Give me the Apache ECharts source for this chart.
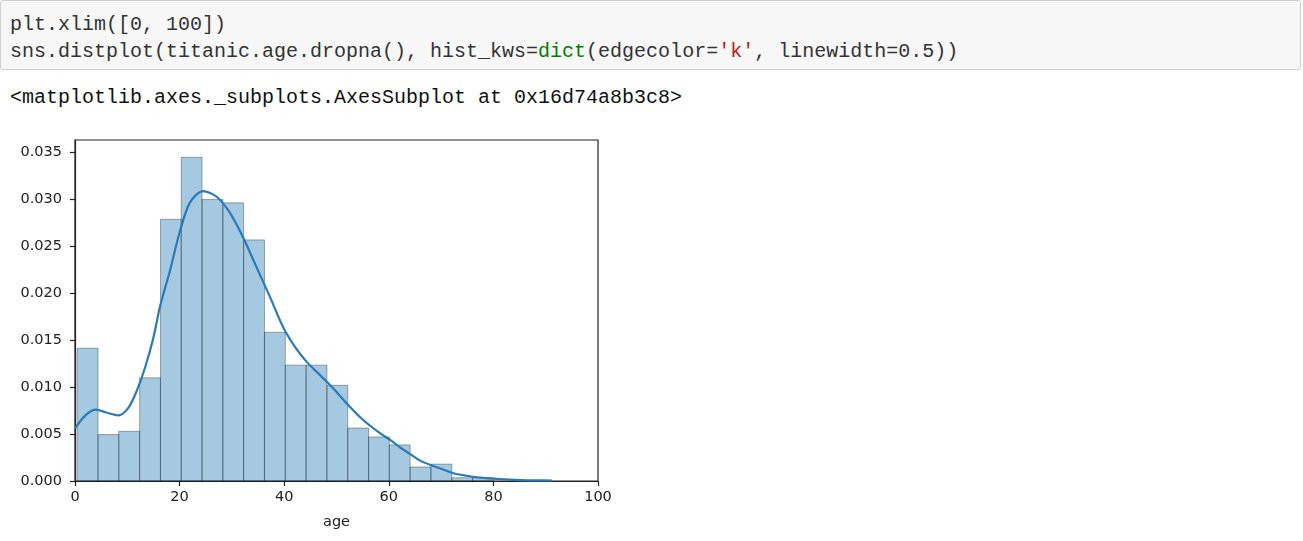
<!DOCTYPE html>
<html>
<head>
<meta charset="utf-8">
<script src="https://cdn.jsdelivr.net/npm/echarts@6/dist/echarts.min.js"></script>
<style>
  html, body { margin: 0; padding: 0; background: #fff; }
  body { width: 1303px; height: 541px; position: relative; overflow: hidden; }
  .cell {
    position: absolute; left: 0; top: 0; width: 1299px; height: 68px;
    background: #f7f7f7; border: 1px solid #cfcfcf; border-radius: 3px;
  }
  .code, .out {
    position: absolute; left: 10px; margin: 0;
    font-family: "Liberation Mono", "DejaVu Sans Mono", monospace;
    font-size: 20px; line-height: 27px; white-space: pre; color: #333;
  }
  .code { top: 11px; }
  .out { top: 84px; color: #111; }
  .bi { color: #008000; }
  .st { color: #ba2121; }
  #chart { position: absolute; left: 0; top: 120px; width: 660px; height: 421px; }
</style>
</head>
<body>
<div class="cell"></div>
<div class="code">plt.xlim([0, 100])
sns.distplot(titanic.age.dropna(), hist_kws=<span class="bi">dict</span>(edgecolor=<span class="st">'k'</span>, linewidth=0.5))</div>
<div class="out">&lt;matplotlib.axes._subplots.AxesSubplot at 0x16d74a8b3c8&gt;</div>
<div id="chart"></div>
<script>
// 直方图分箱边界
var binEdges = [0.42, 4.40, 8.38, 12.36, 16.34, 20.31, 24.29, 28.27, 32.25, 36.23, 40.21,
                44.19, 48.17, 52.15, 56.13, 60.10, 64.08, 68.06, 72.04, 76.02, 80.0];
// 每个分箱的密度
var binDensity = [0.01415, 0.00495, 0.00530, 0.01100, 0.02790, 0.03450, 0.03000, 0.02965, 0.02570, 0.01585,
                  0.01235, 0.01235, 0.01020, 0.00565, 0.00470, 0.00385, 0.00150, 0.00180, 0.00035, 0.00035];
// KDE 曲线
var kdeAge = [0, 2, 4, 6, 8.3, 10.2, 11.8, 13.4, 15.0, 16.3, 18.2, 20.1, 22.0, 24.5, 27.1, 29.6, 32.2, 34.7,
              37.3, 39.8, 42.3, 44.3, 46.1, 48.1, 50.0, 51.9, 55.1, 58.3, 60.2, 62.1, 64.0, 65.9, 68.5,
              70.5, 72.5, 74.5, 77.4, 81.2, 85.0, 88.0, 91.2];
var kdeDensity = [0.0056, 0.0070, 0.0076, 0.0073, 0.0070, 0.0078, 0.0096, 0.0121, 0.0153, 0.0187, 0.0225,
                  0.0267, 0.0297, 0.0309, 0.0303, 0.0286, 0.0259, 0.0228, 0.0196, 0.0164, 0.0141, 0.0127,
                  0.0117, 0.0106, 0.0095, 0.0083, 0.0065, 0.0051, 0.0044, 0.0036, 0.0029, 0.0022, 0.0016,
                  0.0012, 0.0008, 0.0006, 0.00036, 0.0002, 0.0001, 0.00007, 0.00005];
// 刻度
var xTicks = [0, 20, 40, 60, 80, 100];
var yTicks = [0, 0.005, 0.010, 0.015, 0.020, 0.025, 0.030, 0.035];

var histData = [];
for (var i = 0; i < binDensity.length; i++) {
    histData.push([binEdges[i], binEdges[i + 1], binDensity[i]]);
}
var kdeData = [];
for (var j = 0; j < kdeAge.length; j++) {
    kdeData.push([kdeAge[j], kdeDensity[j]]);
}

var myChart = echarts.init(document.getElementById('chart'), null, {renderer: 'canvas'});
var axisColor = '#222';
var font = {fontFamily: 'DejaVu Sans', fontSize: 14.5, color: '#222'};

var option = {
    animation: false,
    grid: {
        left: 75, top: 20, width: 523, height: 341,
        show: true, borderColor: axisColor, borderWidth: 1.2, backgroundColor: 'transparent'
    },
    xAxis: {
        type: 'value', min: 0, max: 100, interval: 20,
        name: 'age', nameLocation: 'middle', nameGap: 34,
        nameTextStyle: font,
        axisLine: {show: true, lineStyle: {color: axisColor, width: 1.2}},
        axisTick: {show: true, length: 5, lineStyle: {color: axisColor, width: 1.2}, customValues: xTicks},
        axisLabel: Object.assign({margin: 9, customValues: xTicks}, font),
        splitLine: {show: false}
    },
    yAxis: {
        type: 'value', min: 0, max: 0.03635,
        axisLine: {show: true, lineStyle: {color: axisColor, width: 1.2}},
        axisTick: {show: true, length: 5, lineStyle: {color: axisColor, width: 1.2}, customValues: yTicks},
        axisLabel: Object.assign({margin: 13, customValues: yTicks, formatter: function (v) {
            return v.toFixed(3);
        }}, font),
        splitLine: {show: false}
    },
    series: [{
        type: 'custom',
        data: histData,
        encode: {x: [0, 1], y: 2},
        renderItem: function (params, api) {
            var p0 = api.coord([api.value(0), api.value(2)]);
            var p1 = api.coord([api.value(1), 0]);
            return {
                type: 'rect',
                shape: {x: p0[0], y: p0[1], width: p1[0] - p0[0], height: p1[1] - p0[1]},
                style: {fill: 'rgba(31,119,180,0.4)', stroke: 'rgba(0,0,0,0.4)', lineWidth: 0.8}
            };
        }
    }, {
        type: 'line',
        data: kdeData,
        showSymbol: false,
        smooth: 0.3,
        lineStyle: {color: '#2a7ab8', width: 2.2},
        z: 3
    }]
};
myChart.setOption(option);
</script>
</body>
</html>
